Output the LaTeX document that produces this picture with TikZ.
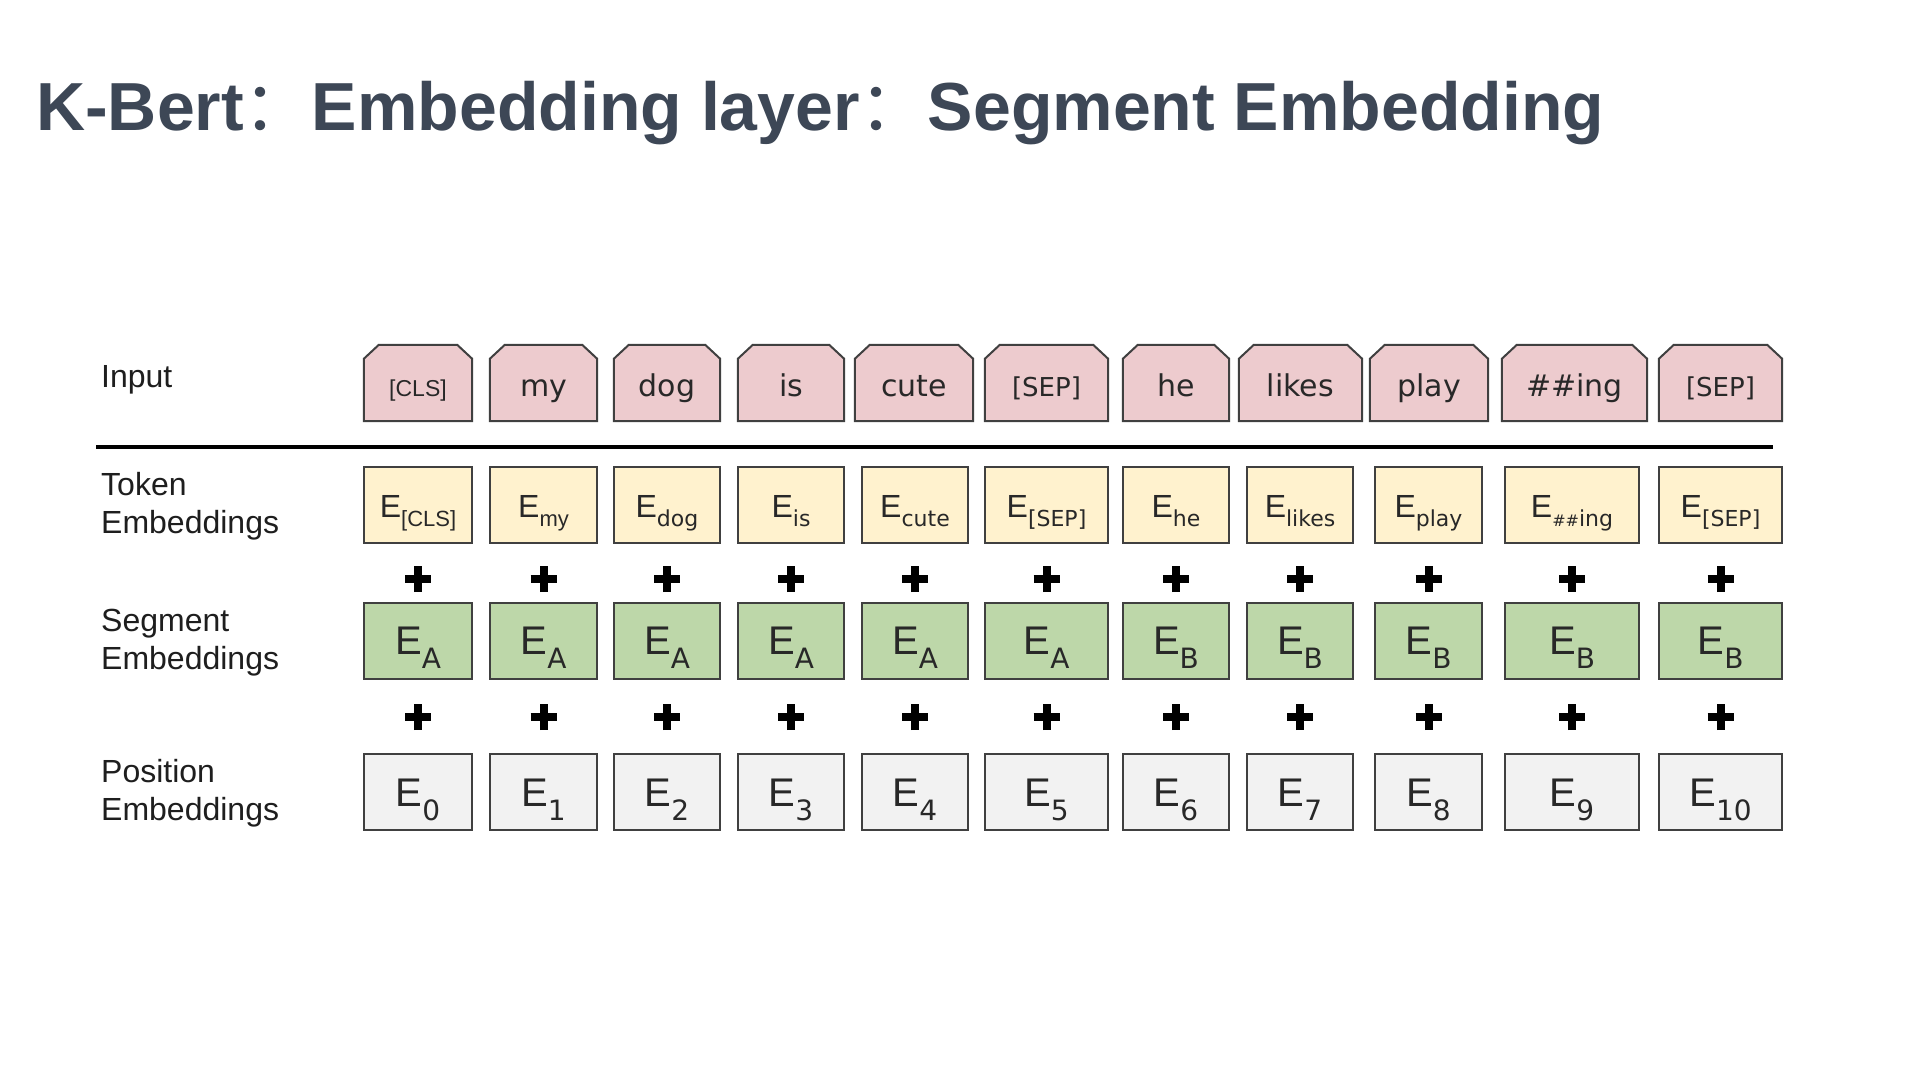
\documentclass[tikz,border=0pt]{standalone}
\usepackage{fontspec}
\setmainfont{Liberation Sans}
\newfontfamily\dvs{DejaVu Sans}
\newfontfamily\cjkfont{Noto Sans CJK SC}
\pgfdeclarelayer{bg}
\pgfsetlayers{bg,main}
\definecolor{titlecol}{RGB}{61,71,86}
\definecolor{lblcol}{RGB}{30,30,30}
\definecolor{boxdraw}{RGB}{64,64,64}
\definecolor{boxtext}{RGB}{40,40,40}
\definecolor{infill}{RGB}{237,203,206}
\definecolor{tokfill}{RGB}{255,242,206}
\definecolor{segfill}{RGB}{189,215,169}
\definecolor{posfill}{RGB}{242,242,242}
\newcommand\wordfont{\dvs\fontsize{30}{30}\selectfont}
\newcommand\clsfont{\fontsize{23}{23}\selectfont}
\newcommand\sepfont{\dvs\fontsize{26}{26}\selectfont}
\newcommand\tokE[1]{{\fontsize{32}{32}\selectfont E}\raisebox{-9pt}{\fontsize{22}{22}\selectfont #1}}
\newcommand\bigE[1]{{\fontsize{40}{40}\selectfont E}\raisebox{-14pt}{\dvs\fontsize{28}{28}\selectfont #1}}
\begin{document}
\begin{tikzpicture}[x=1pt,y=-1pt,
  boxline/.style={draw=boxdraw, line width=2pt},
  lbl/.style={anchor=base west, inner sep=0pt, text=lblcol, font=\fontsize{32}{39}\selectfont},
  inbox/.style={inner sep=0pt, text=boxtext, minimum height=76pt, text height=36pt, text depth=10pt},
  embbox/.style={boxline, inner sep=0pt, text=boxtext, minimum height=76pt},
  tokbox/.style={embbox, fill=tokfill, text height=34pt, text depth=10pt},
  segbox/.style={embbox, fill=segfill, text height=38pt, text depth=10pt},
  posbox/.style={embbox, fill=posfill, text height=38pt, text depth=10pt},
  plusarm/.style={draw=black, line width=8pt}]
\useasboundingbox (0,0) rectangle (1920,1080);
\begin{pgfonlayer}{bg}
  \fill[white] (0,0) rectangle (1920,1080);
\end{pgfonlayer}

% title
\node[anchor=base west, inner sep=0pt, text=titlecol, font=\fontsize{68}{80}\selectfont\bfseries] (title) at (36,130)
  {K-Bert{\cjkfont\mdseries ：}Embedding layer{\cjkfont\mdseries ：}Segment Embedding};

% row labels
\node[lbl] (linput) at (101,387) {Input};
\node[lbl] (ltokA) at (101,495) {Token};
\node[lbl] (ltokB) at (101,533) {Embeddings};
\node[lbl] (lsegA) at (101,631) {Segment};
\node[lbl] (lsegB) at (101,669) {Embeddings};
\node[lbl] (lposA) at (101,782) {Position};
\node[lbl] (lposB) at (101,820) {Embeddings};

% separator line
\coordinate (lineL) at (96,447);
\coordinate (lineR) at (1773,447);
\draw[line width=4.5pt, black] (lineL) -- (lineR);

\foreach \i/\cx/\w/\ix/\iw/\word/\tsub in {
  1/418/108/418/108/{\clsfont[CLS]}/{[CLS]},
  2/543.5/107/543.5/107/{\wordfont my}/{my},
  3/667/106/667/106/{\wordfont dog}/{\dvs dog},
  4/791/106/791/106/{\wordfont is}/{\dvs is},
  5/915/106/914/118/{\wordfont cute}/{\dvs cute},
  6/1046.5/123/1046.5/123/{\sepfont[SEP]}/{\dvs[SEP]},
  7/1176/106/1176/106/{\wordfont he}/{\dvs he},
  8/1300/106/1300.5/123/{\wordfont likes}/{\dvs likes},
  9/1428.5/107/1429/118/{\wordfont play}/{\dvs play},
  10/1572/134/1574.5/145/{\wordfont\#\#ing}/{\dvs{\fontsize{16}{16}\selectfont\#\#}ing},
  11/1720.5/123/1720.5/123/{\sepfont[SEP]}/{\dvs[SEP]}}{
  % input
  \node[inbox, minimum width=\iw pt] (in\i) at (\ix,383) {\word};
  \begin{pgfonlayer}{bg}
    \draw[boxline, fill=infill] (in\i.south west) -- ([yshift=-14pt]in\i.north west)
      -- ([xshift=15pt]in\i.north west) -- ([xshift=-15pt]in\i.north east)
      -- ([yshift=-14pt]in\i.north east) -- (in\i.south east) -- cycle;
  \end{pgfonlayer}
  % token
  \node[tokbox, minimum width=\w pt] (tok\i) at (\cx,505) {\tokE{\tsub}};
  % segment
  \node[segbox, minimum width=\w pt] (seg\i) at (\cx,640.5) {\bigE{\ifnum\i<7 A\else B\fi}};
  % position
  \pgfmathtruncatemacro\pn{\i-1}
  \node[posbox, minimum width=\w pt] (pos\i) at (\cx,792) {\bigE{\pn}};
  % plus signs
  \coordinate (plA\i) at (\cx,579);
  \coordinate (plB\i) at (\cx,717);
  \draw[plusarm] ([xshift=-13pt]plA\i) -- ([xshift=13pt]plA\i);
  \draw[plusarm] ([yshift=-13pt]plA\i) -- ([yshift=13pt]plA\i);
  \draw[plusarm] ([xshift=-13pt]plB\i) -- ([xshift=13pt]plB\i);
  \draw[plusarm] ([yshift=-13pt]plB\i) -- ([yshift=13pt]plB\i);
}
\end{tikzpicture}
\end{document}
